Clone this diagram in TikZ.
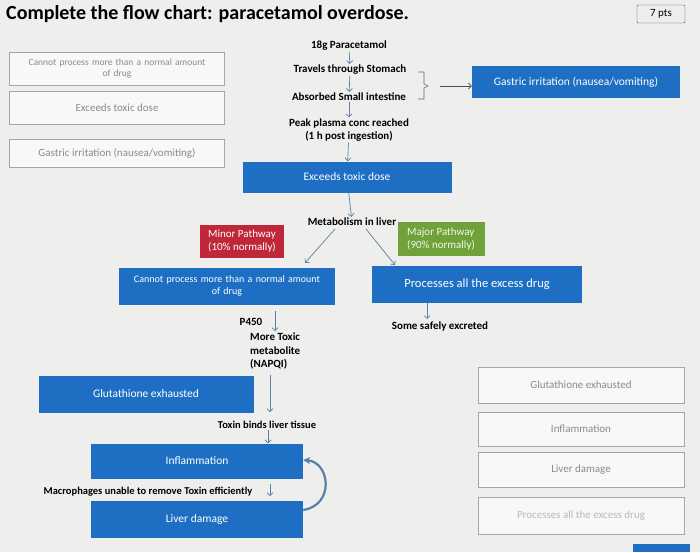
\documentclass[tikz,border=0pt]{standalone}
\usepackage{fontspec}
\setmainfont{Carlito}
\usetikzlibrary{arrows.meta}
\definecolor{bg}{HTML}{EEEEEC}
\definecolor{bl}{HTML}{1E6FC3}
\definecolor{gt}{HTML}{8A8A8A}
\definecolor{redb}{HTML}{C0283A}
\definecolor{grnb}{HTML}{6FA33A}
\definecolor{arr}{HTML}{5A7FA8}
\tikzset{
  bluebox/.style={fill=bl,text=white,font=\fontsize{11.5}{13.5}\selectfont,align=center,inner sep=2pt},
  graybox/.style={draw=gray!70,line width=0.8pt,fill=white!60!bg,text=gt,font=\fontsize{11}{13}\selectfont,align=center,inner sep=2pt},
  lbl/.style={font=\bfseries\fontsize{11}{13.5}\selectfont,align=center,inner sep=1pt},
  ar/.style={-{Straight Barb[length=3pt]},arr,line width=0.7pt},
}
\begin{document}
\begin{tikzpicture}[x=1pt,y=-1pt]
\fill[bg] (0,0) rectangle (700,552);
\useasboundingbox (0,0) rectangle (700,552);
\node[anchor=west,font=\bfseries\fontsize{20}{22}\selectfont,inner sep=0] (title) at (6,14) {Complete the flow chart: paracetamol overdose.};
\node[draw=black!70,rounded corners=1pt,minimum width=48,minimum height=18,font=\fontsize{11}{12}\selectfont] (pts) at (661,14) {7 pts};
% left gray boxes
\node[graybox,minimum width=215,minimum height=33,text width=205,font=\fontsize{9.5}{11}\selectfont] (g1) at (117,69) {Cannot process more than a normal amount\\of drug};
\node[graybox,minimum width=215,minimum height=33] (g2) at (117,108) {Exceeds toxic dose};
\node[graybox,minimum width=215,minimum height=28] (g3) at (117,153) {Gastric irritation (nausea/vomiting)};
% centre column
\node[lbl] (para) at (349,46) {18g Paracetamol};
\node[lbl] (stom) at (350,70) {Travels through Stomach};
\node[lbl] (abs) at (349,97) {Absorbed Small intestine};
\node[lbl] (peak) at (349,130) {Peak plasma conc reached\\(1 h post ingestion)};
\node[bluebox,minimum width=209,minimum height=31] (exc) at (347,177) {Exceeds toxic dose};
\draw[ar] (para) -- (stom);
\draw[ar] (stom) -- (abs);
\draw[ar] (abs) -- (peak);
\draw[ar] (peak) -- (exc);
% bracket
\coordinate (bt) at (418,72);
\coordinate (bb) at (418,99);
\draw[black!60,line width=0.6pt] (bt) -- ++(6,0) -- ++(0,12) -- ++(4,2) -- ++(-4,2) -- (424,99) -- (bb);
\coordinate (bo) at (440,86);
\node[bluebox,minimum width=208,minimum height=32] (gas) at (576,82) {Gastric irritation (nausea/vomiting)};
\draw[ar,black!70] (bo) -- (gas.west |- bo);
% metabolism
\node[lbl] (met) at (352,222) {Metabolism in liver};
\draw[ar] (exc) -- (met);
\node[fill=redb,text=white,font=\fontsize{11}{13}\selectfont,align=left,minimum width=84,minimum height=33] (minor) at (242,241) {Minor Pathway\\(10\% normally)};
\node[fill=grnb,text=white!90!grnb,font=\fontsize{11}{13}\selectfont,align=left,minimum width=87,minimum height=34] (major) at (441,239) {Major Pathway\\(90\% normally)};
\node[bluebox,minimum width=216,minimum height=37,text width=210,font=\fontsize{10}{12}\selectfont] (cp) at (227,286) {Cannot process more than a normal amount\\of drug};
\node[bluebox,minimum width=210,minimum height=37,font=\fontsize{12.5}{14}\selectfont] (pe) at (477,284) {Processes all the excess drug};
\draw[ar] (335,229) -- (305,263);
\draw[ar] (366,229) -- (395,265);
% minor branch
\node[lbl] (p450) at (251,322) {P450};
\coordinate (a1) at (275,311);
\coordinate (a2) at (275,331);
\draw[ar] (a1) -- (a2);
\node[lbl,align=left,anchor=north west] (napqi) at (249,332) {More Toxic\\metabolite\\(NAPQI)};
\node[lbl] (safe) at (440,326) {Some safely excreted};
\draw[ar] (pe.south -| 427,0) -- (427,319);
\node[bluebox,minimum width=215,minimum height=37] (glu) at (146,394) {Glutathione exhausted};
\draw[ar] (270,375) -- (270,412);
\node[lbl,font=\fontsize{10.5}{12}\selectfont\bfseries] (tox) at (267,425) {Toxin binds liver tissue};
\node[bluebox,minimum width=212,minimum height=35] (inf) at (197,461) {Inflammation};
\draw[ar] (tox.south -| 268,0) -- (inf.north -| 268,0);
\node[lbl,font=\fontsize{10.5}{12}\selectfont\bfseries] (mac) at (148,492) {Macrophages unable to remove Toxin efficiently};
\draw[ar] (270,484) -- (270,496);
\node[bluebox,minimum width=212,minimum height=37] (ld) at (197,519) {Liver damage};
\draw[-{Stealth[length=7pt,width=7pt]},arr,line width=2.2pt] (ld.east |- 0,510) .. controls (335,505) and (330,462) .. (inf.east |- 0,460);
% right gray boxes
\node[graybox,minimum width=206,minimum height=36] (r1) at (581,385) {Glutathione exhausted};
\node[graybox,minimum width=206,minimum height=34] (r2) at (581,429) {Inflammation};
\node[graybox,minimum width=206,minimum height=35] (r3) at (581,470) {Liver damage};
\node[graybox,minimum width=206,minimum height=37,text=gt!60] (r4) at (581,516) {Processes all the excess drug};
\fill[bl] (633,544) rectangle (690,552);
\end{tikzpicture}
\end{document}
